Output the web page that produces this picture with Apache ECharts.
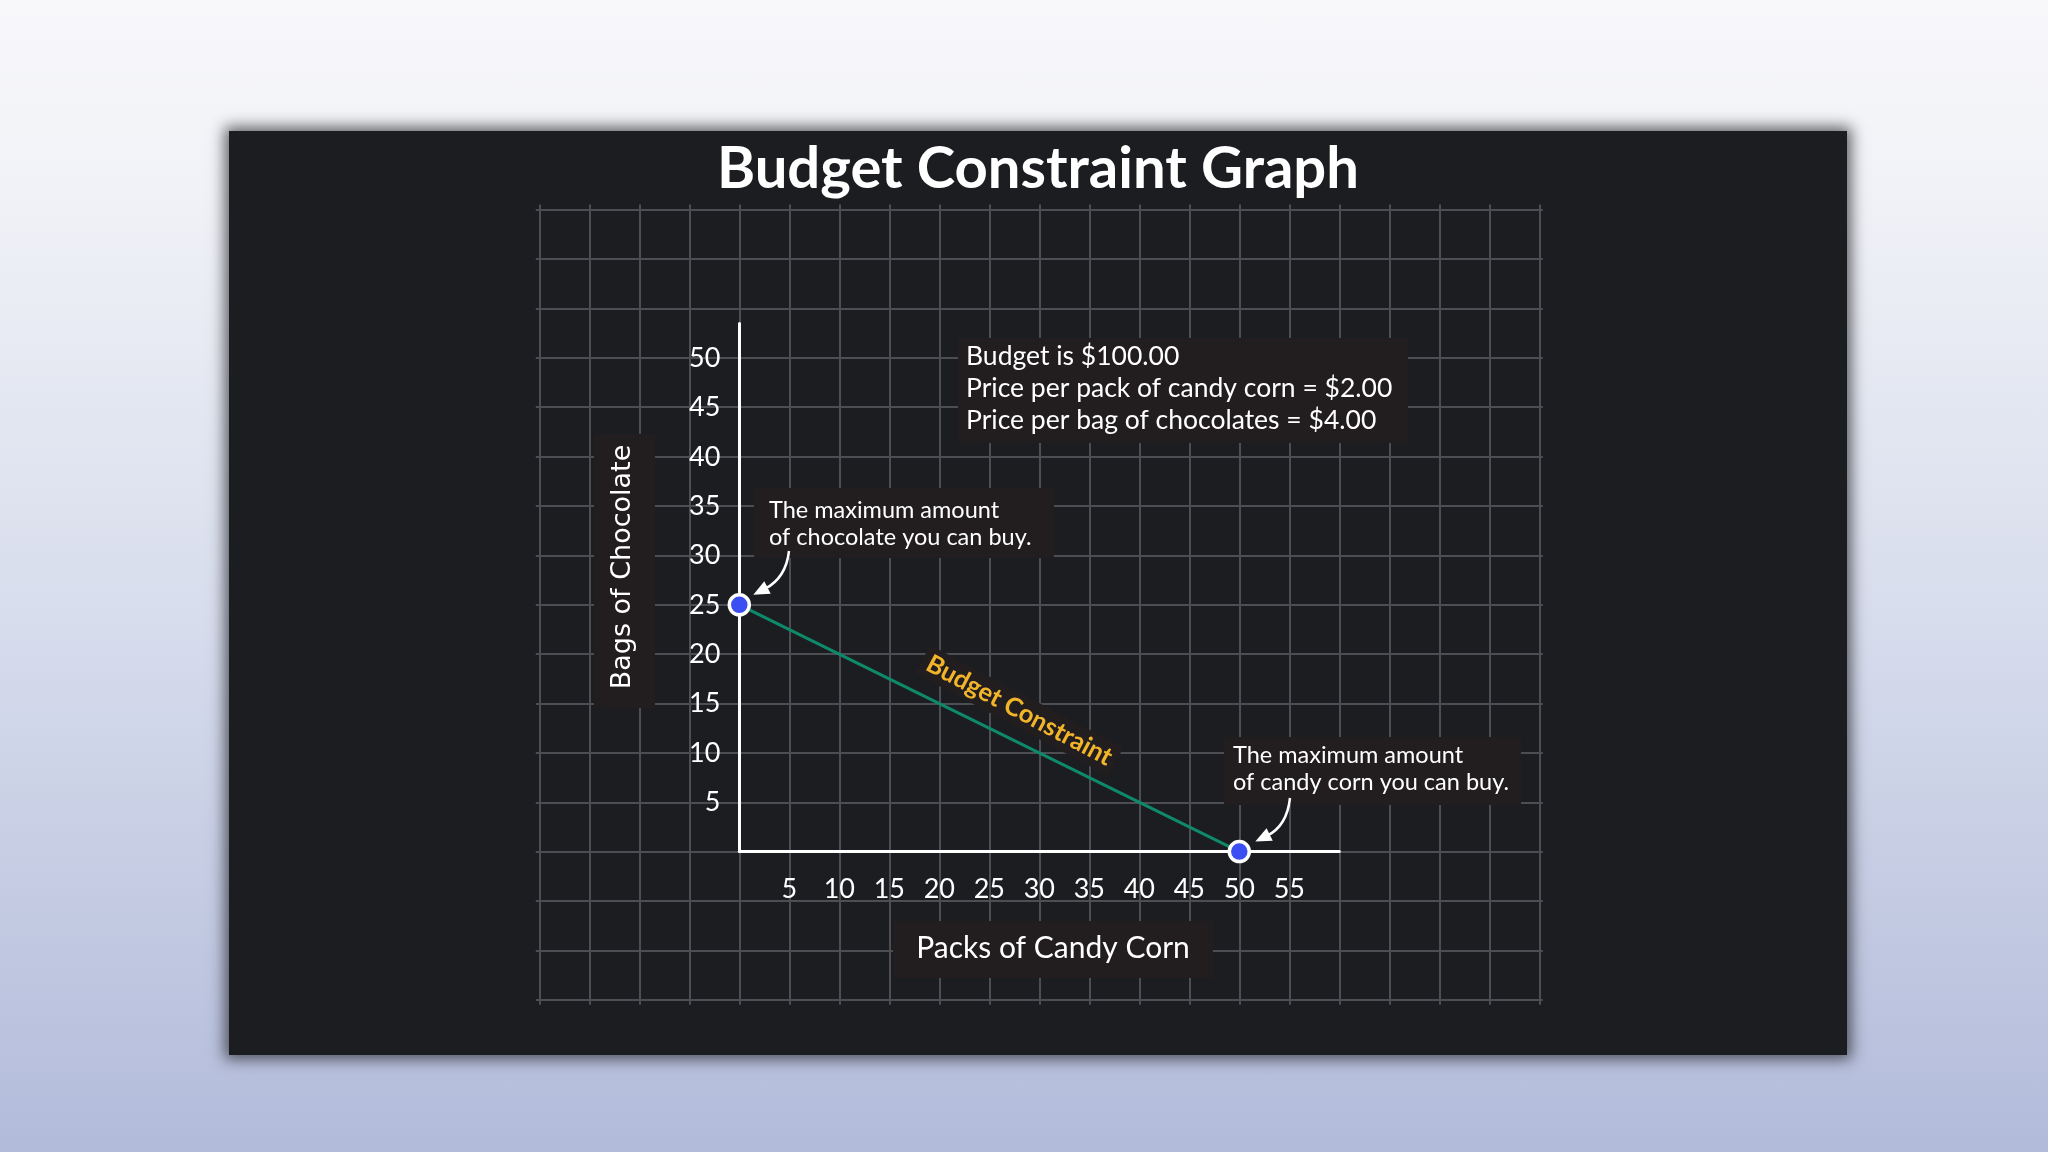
<!DOCTYPE html>
<html>
<head>
<meta charset="utf-8">
<title>Budget Constraint Graph</title>
<script src="https://cdn.jsdelivr.net/npm/echarts@6/dist/echarts.min.js"></script>
<style>
    html, body { margin: 0; padding: 0; width: 2048px; height: 1152px; overflow: hidden; }
    body {
        position: relative;
        background: linear-gradient(to bottom, #f8f8fb 0%, #f1f2f7 16%, #d6dcec 55%, #b2bbda 100%);
    }
    #panel {
        position: absolute; left: 229px; top: 131px; width: 1618px; height: 924px;
        background: #1c1d21;
        box-shadow: 0 0 14px 4px rgba(28, 29, 33, 0.7);
    }
    #chart { position: absolute; left: 0; top: 0; width: 2048px; height: 1152px; }
</style>
</head>
<body>
<div id="panel"></div>
<div id="chart"></div>
<script>
// 数据
let candyCorn = [0, 50];        // 横轴: Packs of Candy Corn
let chocolate = [25, 0];        // 纵轴: Bags of Chocolate
let xTickLabels = [5, 10, 15, 20, 25, 30, 35, 40, 45, 50, 55];
let yTickLabels = [5, 10, 15, 20, 25, 30, 35, 40, 45, 50];
let budgetNotes = ['Budget is $100.00', 'Price per pack of candy corn = $2.00', 'Price per bag of chocolates = $4.00'];
let chocolateNote = ['The maximum amount', 'of chocolate you can buy.'];
let candyNote = ['The maximum amount', 'of candy corn you can buy.'];

let FONT = 'Lato';
let BOX = '#221e1f';
let GRID_LINE = '#4d4e53';

let chart = echarts.init(document.getElementById('chart'));

function tickFormatter(list) {
    return function (value) {
        return list.indexOf(value) >= 0 ? String(value) : '';
    };
}

option = {
    backgroundColor: 'transparent',
    animation: false,
    grid: [
        {left: 539.3, top: 204.6, width: 1000, height: 800.2},  // 背景竖线
        {left: 535.8, top: 209.6, width: 1007, height: 790.2},  // 背景横线
        {left: 739.3, top: 323.6, width: 600, height: 528}      // 坐标轴
    ],
    xAxis: [
        {
            gridIndex: 0, type: 'value', min: -20, max: 80, interval: 5,
            axisLine: {show: false}, axisTick: {show: false}, axisLabel: {show: false},
            splitLine: {show: true, lineStyle: {color: GRID_LINE, width: 2}}
        },
        {gridIndex: 1, type: 'value', show: false},
        {
            gridIndex: 2, type: 'value', min: 0, max: 60, interval: 5,
            axisLine: {show: true, lineStyle: {color: '#ffffff', width: 3}},
            axisTick: {show: false},
            splitLine: {show: false},
            axisLabel: {
                color: '#ffffff', fontFamily: FONT, fontSize: 27, margin: 24,
                formatter: tickFormatter(xTickLabels)
            }
        }
    ],
    yAxis: [
        {gridIndex: 0, type: 'value', show: false},
        {
            gridIndex: 1, type: 'value', min: -15, max: 65, interval: 5,
            axisLine: {show: false}, axisTick: {show: false}, axisLabel: {show: false},
            splitLine: {show: true, lineStyle: {color: GRID_LINE, width: 2}}
        },
        {
            gridIndex: 2, type: 'value', min: 0, max: 53.5, interval: 5,
            axisLine: {show: true, lineStyle: {color: '#ffffff', width: 3}},
            axisTick: {show: false},
            splitLine: {show: false},
            axisLabel: {
                color: '#ffffff', fontFamily: FONT, fontSize: 27, margin: 19,
                formatter: tickFormatter(yTickLabels)
            }
        }
    ],
    series: [
        {
            name: 'Budget Constraint',
            type: 'line',
            xAxisIndex: 2,
            yAxisIndex: 2,
            data: candyCorn.map(function (x, i) { return [x, chocolate[i]]; }),
            lineStyle: {color: '#0e8a6b', width: 3},
            symbol: 'circle',
            symbolSize: 20,
            itemStyle: {color: '#3b4ef2', borderColor: '#ffffff', borderWidth: 3.5},
            z: 5
        }
    ]
};
chart.setOption(option);

function toPx(point) {
    return chart.convertToPixel({xAxisIndex: 2, yAxisIndex: 2}, point);
}

// 白色弯箭头
function arrow(start, ctrl, tip) {
    let dx = tip[0] - ctrl[0], dy = tip[1] - ctrl[1];
    let len = Math.sqrt(dx * dx + dy * dy);
    let ux = dx / len, uy = dy / len;
    let headLen = 16, headW = 7;
    let base = [tip[0] - ux * headLen, tip[1] - uy * headLen];
    return [
        {
            type: 'bezierCurve', z: 10,
            shape: {x1: start[0], y1: start[1], cpx1: ctrl[0], cpy1: ctrl[1], x2: base[0] + ux * 3, y2: base[1] + uy * 3},
            style: {stroke: '#ffffff', lineWidth: 2.5, fill: null}
        },
        {
            type: 'polygon', z: 10,
            shape: {points: [tip, [base[0] - uy * headW, base[1] + ux * headW], [base[0] + uy * headW, base[1] - ux * headW]]},
            style: {fill: '#ffffff'}
        }
    ];
}

function box(x, y, w, h) {
    return {type: 'rect', z: 5, shape: {x: x, y: y, width: w, height: h}, style: {fill: BOX}};
}

function label(x, y, text, size, extra) {
    let el = {
        type: 'text', z: 6, x: x, y: y,
        style: {
            text: text, fill: '#ffffff', fontFamily: FONT, fontSize: size,
            align: 'left', verticalAlign: 'middle'
        }
    };
    return echarts.util.merge(el, extra || {}, true);
}

function buildGraphic() {
    let p0 = toPx([candyCorn[0], chocolate[0]]);
    let p1 = toPx([candyCorn[1], chocolate[1]]);
    let angle = Math.atan2(p1[1] - p0[1], p1[0] - p0[0]);
    let tagPos = toPx([28, 14.3]);

    let items = [
        // 标题
        label(1038, 169, 'Budget Constraint Graph', 58, {style: {align: 'center', fontWeight: 'bold'}}),
        // 坐标轴名称
        box(594, 434, 61, 274),
        label(623, 567, 'Bags of Chocolate', 27, {rotation: Math.PI / 2, style: {align: 'center', fontFamily: 'DejaVu Sans'}}),
        box(893, 921, 320, 57),
        label(1053, 948, 'Packs of Candy Corn', 30, {style: {align: 'center'}}),
        // 预算说明
        box(958, 338, 450, 105),
        label(966, 388.5, budgetNotes.join('\n'), 26.5, {style: {lineHeight: 31.7}}),
        // 两个端点说明
        box(754, 488, 300, 70),
        label(769, 523.5, chocolateNote.join('\n'), 23.5, {style: {lineHeight: 27}}),
        box(1224, 737, 297, 68),
        label(1233, 768.5, candyNote.join('\n'), 23.5, {style: {lineHeight: 27}}),
        // 斜线标签
        {
            type: 'text', z: 6, x: tagPos[0], y: tagPos[1], rotation: -angle - 0.03,
            style: {
                text: 'Budget Constraint', fill: '#f2b52a', fontFamily: FONT, fontSize: 25.5, fontWeight: 'bold',
                align: 'center', verticalAlign: 'middle', backgroundColor: BOX, padding: [3, 6]
            }
        }
    ];
    items = items.concat(arrow([789, 551], [786, 578], [p0[0] + 14, p0[1] - 10]));
    items = items.concat(arrow([1290, 798], [1287, 826], [p1[0] + 16, p1[1] - 10]));
    return items;
}

chart.setOption({graphic: buildGraphic()});
</script>
</body>
</html>
